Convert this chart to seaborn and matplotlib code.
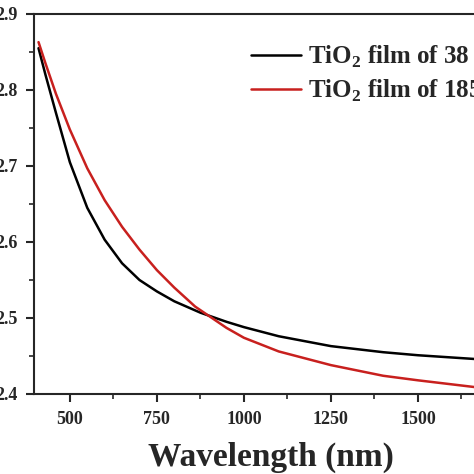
import matplotlib
matplotlib.use("Agg")
import matplotlib.pyplot as plt
import seaborn as sns
import pandas as pd
from matplotlib.ticker import MultipleLocator

wl_38 = [410, 430, 460, 500, 550, 600, 650, 700, 750, 800, 875, 950, 1000, 1100, 1250, 1400, 1500, 1665]
n_38 = [2.855, 2.82, 2.77, 2.705, 2.645, 2.603, 2.572, 2.550, 2.535, 2.522, 2.507, 2.495, 2.488, 2.476, 2.463, 2.455, 2.451, 2.446]
wl_185 = [410, 430, 460, 500, 550, 600, 650, 700, 750, 800, 860, 950, 1000, 1100, 1250, 1400, 1500, 1665]
n_185 = [2.863, 2.835, 2.795, 2.748, 2.697, 2.655, 2.620, 2.590, 2.563, 2.540, 2.515, 2.487, 2.474, 2.456, 2.438, 2.424, 2.418, 2.409]
labels = [r"TiO$_\mathbf{2}$ film of 38 nm", r"TiO$_\mathbf{2}$ film of 185 nm"]

df = pd.concat([
    pd.DataFrame({"wl": wl_38, "n": n_38, "film": labels[0]}),
    pd.DataFrame({"wl": wl_185, "n": n_185, "film": labels[1]}),
])

sns.set_style("ticks")
plt.rcParams["font.family"] = ["Liberation Serif", "DejaVu Serif"]
plt.rcParams["font.weight"] = "bold"
plt.rcParams["mathtext.fontset"] = "custom"
plt.rcParams["mathtext.rm"] = "Liberation Serif:bold"
plt.rcParams["mathtext.bf"] = "Liberation Serif:bold"

fig = plt.figure(figsize=(4.74, 4.74), dpi=100)
ax = fig.add_axes([34/474, 80/474, 1.0, 380/474])
sns.lineplot(data=df, x="wl", y="n", hue="film", palette=["black", "#c8201e"],
             ax=ax, linewidth=1.8, sort=True)
ax.set_xlim(397, 397 + (1661 - 397) * 474 / 440)
ax.set_ylim(2.4, 2.9)
ax.xaxis.set_major_locator(MultipleLocator(250))
ax.xaxis.set_minor_locator(MultipleLocator(125))
ax.yaxis.set_major_locator(MultipleLocator(0.1))
ax.yaxis.set_minor_locator(MultipleLocator(0.05))
ax.tick_params(which="major", direction="out", length=6, width=1.5, labelsize=13, pad=6)
ax.tick_params(which="minor", direction="out", length=3.5, width=1.2)
for s in ax.spines.values():
    s.set_linewidth(1.5)
for t in ax.get_xticklabels() + ax.get_yticklabels():
    t.set_fontweight("bold")
ax.set_xlabel("Wavelength (nm)", fontsize=24, fontweight="bold", labelpad=10)
ax.set_ylabel("")
leg = ax.legend(title=None, frameon=False, loc="upper left",
                bbox_to_anchor=(0.41, 0.98), prop={"size": 18, "weight": "bold"},
                handlelength=2.0, handletextpad=0.3, labelspacing=0.3)
fig.savefig("out.png", dpi=100)
